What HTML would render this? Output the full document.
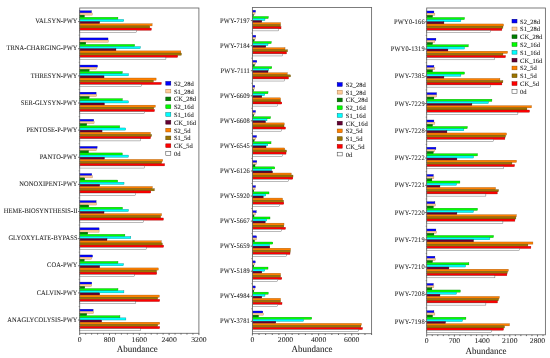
<!DOCTYPE html>
<html><head><meta charset="utf-8"><title>Abundance</title>
<style>
html,body{margin:0;padding:0;background:#fff;}
body{width:550px;height:358px;overflow:hidden;}
svg{display:block;filter:blur(0.35px);}
text{text-rendering:geometricPrecision;font-family:"Liberation Serif","Times New Roman",serif;fill:#1a1a1a;stroke:#1a1a1a;stroke-width:0.05px;}
.c{font-size:6.45px;text-anchor:end;stroke-width:0.06px;}
.k{font-size:7.7px;text-anchor:middle;}
.ti{font-size:9.0px;text-anchor:middle;}
.l{font-size:6.5px;stroke-width:0.08px;}
.b rect{stroke-width:0.35;}
.fr{fill:none;stroke:#666;stroke-width:0.85;}
.t{stroke:#444;stroke-width:0.8;}
</style></head>
<body><svg width="550" height="358" viewBox="0 0 550 358">
<rect width="550" height="358" fill="#fff"/>
<text class="c" letter-spacing="0.06" transform="translate(77.55 23.3) scale(1 1.08)">VALSYN-PWY</text>
<line class="t" x1="78.1" y1="21.6" x2="79.7" y2="21.6"/>
<text class="c" letter-spacing="0.06" transform="translate(77.55 50.43) scale(1 1.08)">TRNA-CHARGING-PWY</text>
<line class="t" x1="78.1" y1="48.73" x2="79.7" y2="48.73"/>
<line class="t" x1="78.8" y1="35.17" x2="79.7" y2="35.17"/>
<text class="c" letter-spacing="0.06" transform="translate(77.55 77.56) scale(1 1.08)">THRESYN-PWY</text>
<line class="t" x1="78.1" y1="75.86" x2="79.7" y2="75.86"/>
<line class="t" x1="78.8" y1="62.3" x2="79.7" y2="62.3"/>
<text class="c" letter-spacing="0.06" transform="translate(77.55 104.69) scale(1 1.08)">SER-GLYSYN-PWY</text>
<line class="t" x1="78.1" y1="102.99" x2="79.7" y2="102.99"/>
<line class="t" x1="78.8" y1="89.43" x2="79.7" y2="89.43"/>
<text class="c" letter-spacing="0.06" transform="translate(77.55 131.82) scale(1 1.08)">PENTOSE-P-PWY</text>
<line class="t" x1="78.1" y1="130.12" x2="79.7" y2="130.12"/>
<line class="t" x1="78.8" y1="116.56" x2="79.7" y2="116.56"/>
<text class="c" letter-spacing="0.06" transform="translate(77.55 158.95) scale(1 1.08)">PANTO-PWY</text>
<line class="t" x1="78.1" y1="157.25" x2="79.7" y2="157.25"/>
<line class="t" x1="78.8" y1="143.69" x2="79.7" y2="143.69"/>
<text class="c" letter-spacing="0.06" transform="translate(77.55 186.08) scale(1 1.08)">NONOXIPENT-PWY</text>
<line class="t" x1="78.1" y1="184.38" x2="79.7" y2="184.38"/>
<line class="t" x1="78.8" y1="170.81" x2="79.7" y2="170.81"/>
<text class="c" letter-spacing="0.06" transform="translate(77.55 213.21) scale(1 1.08)">HEME-BIOSYNTHESIS-II</text>
<line class="t" x1="78.1" y1="211.51" x2="79.7" y2="211.51"/>
<line class="t" x1="78.8" y1="197.94" x2="79.7" y2="197.94"/>
<text class="c" letter-spacing="0.06" transform="translate(77.55 240.34) scale(1 1.08)">GLYOXYLATE-BYPASS</text>
<line class="t" x1="78.1" y1="238.64" x2="79.7" y2="238.64"/>
<line class="t" x1="78.8" y1="225.07" x2="79.7" y2="225.07"/>
<text class="c" letter-spacing="0.06" transform="translate(77.55 267.47) scale(1 1.08)">COA-PWY</text>
<line class="t" x1="78.1" y1="265.77" x2="79.7" y2="265.77"/>
<line class="t" x1="78.8" y1="252.2" x2="79.7" y2="252.2"/>
<text class="c" letter-spacing="0.06" transform="translate(77.55 294.6) scale(1 1.08)">CALVIN-PWY</text>
<line class="t" x1="78.1" y1="292.9" x2="79.7" y2="292.9"/>
<line class="t" x1="78.8" y1="279.34" x2="79.7" y2="279.34"/>
<text class="c" letter-spacing="0.06" transform="translate(77.55 321.73) scale(1 1.08)">ANAGLYCOLYSIS-PWY</text>
<line class="t" x1="78.1" y1="320.03" x2="79.7" y2="320.03"/>
<line class="t" x1="78.8" y1="306.47" x2="79.7" y2="306.47"/>
<g class="b"><rect x="79.7" y="10.8" width="11.77" height="2.16" fill="#0000ff" stroke="#000080"/><rect x="79.7" y="12.96" width="12.55" height="2.16" fill="#ffcc99" stroke="#b08050"/><rect x="79.7" y="15.12" width="4.69" height="2.16" fill="#008000" stroke="#004000"/><rect x="79.7" y="17.28" width="38.22" height="2.16" fill="#00ff00" stroke="#008000"/><rect x="79.7" y="19.44" width="44.1" height="2.16" fill="#00ffff" stroke="#008080"/><rect x="79.7" y="21.6" width="19.97" height="2.16" fill="#660033" stroke="#330018"/><rect x="79.7" y="23.76" width="72.41" height="2.16" fill="#ff8000" stroke="#995000"/><rect x="79.7" y="25.92" width="70.03" height="2.16" fill="#9c7400" stroke="#5a4200"/><rect x="79.7" y="28.08" width="71.63" height="2.16" fill="#ff0000" stroke="#990000"/><rect x="79.7" y="30.24" width="56.73" height="2.16" fill="#ffffff" stroke="#3a3a3a"/><rect x="79.7" y="37.93" width="28.31" height="2.16" fill="#0000ff" stroke="#000080"/><rect x="79.7" y="40.09" width="28.72" height="2.16" fill="#ffcc99" stroke="#b08050"/><rect x="79.7" y="42.25" width="6.07" height="2.16" fill="#008000" stroke="#004000"/><rect x="79.7" y="44.41" width="54.94" height="2.16" fill="#00ff00" stroke="#008000"/><rect x="79.7" y="46.57" width="60.68" height="2.16" fill="#00ffff" stroke="#008080"/><rect x="79.7" y="48.73" width="36.24" height="2.16" fill="#660033" stroke="#330018"/><rect x="79.7" y="50.89" width="101.13" height="2.16" fill="#ff8000" stroke="#995000"/><rect x="79.7" y="53.05" width="101.66" height="2.16" fill="#9c7400" stroke="#5a4200"/><rect x="79.7" y="55.21" width="97.97" height="2.16" fill="#ff0000" stroke="#990000"/><rect x="79.7" y="57.37" width="86.23" height="2.16" fill="#ffffff" stroke="#3a3a3a"/><rect x="79.7" y="65.06" width="17.77" height="2.16" fill="#0000ff" stroke="#000080"/><rect x="79.7" y="67.22" width="16.8" height="2.16" fill="#ffcc99" stroke="#b08050"/><rect x="79.7" y="69.38" width="9.42" height="2.16" fill="#008000" stroke="#004000"/><rect x="79.7" y="71.54" width="42.61" height="2.16" fill="#00ff00" stroke="#008000"/><rect x="79.7" y="73.7" width="48.76" height="2.16" fill="#00ffff" stroke="#008080"/><rect x="79.7" y="75.86" width="24.32" height="2.16" fill="#660033" stroke="#330018"/><rect x="79.7" y="78.02" width="76.4" height="2.16" fill="#ff8000" stroke="#995000"/><rect x="79.7" y="80.18" width="73.61" height="2.16" fill="#9c7400" stroke="#5a4200"/><rect x="79.7" y="82.34" width="81.58" height="2.16" fill="#ff0000" stroke="#990000"/><rect x="79.7" y="84.5" width="61.69" height="2.16" fill="#ffffff" stroke="#3a3a3a"/><rect x="79.7" y="92.19" width="16.39" height="2.16" fill="#0000ff" stroke="#000080"/><rect x="79.7" y="94.35" width="16.99" height="2.16" fill="#ffcc99" stroke="#b08050"/><rect x="79.7" y="96.51" width="9.42" height="2.16" fill="#008000" stroke="#004000"/><rect x="79.7" y="98.67" width="42.61" height="2.16" fill="#00ff00" stroke="#008000"/><rect x="79.7" y="100.83" width="48.76" height="2.16" fill="#00ffff" stroke="#008080"/><rect x="79.7" y="102.99" width="24.73" height="2.16" fill="#660033" stroke="#330018"/><rect x="79.7" y="105.15" width="75.58" height="2.16" fill="#ff8000" stroke="#995000"/><rect x="79.7" y="107.31" width="74.02" height="2.16" fill="#9c7400" stroke="#5a4200"/><rect x="79.7" y="109.47" width="74.8" height="2.16" fill="#ff0000" stroke="#990000"/><rect x="79.7" y="111.63" width="65.08" height="2.16" fill="#ffffff" stroke="#3a3a3a"/><rect x="79.7" y="119.32" width="14.01" height="2.16" fill="#0000ff" stroke="#000080"/><rect x="79.7" y="121.48" width="14.42" height="2.16" fill="#ffcc99" stroke="#b08050"/><rect x="79.7" y="123.64" width="7.04" height="2.16" fill="#008000" stroke="#004000"/><rect x="79.7" y="125.8" width="40.01" height="2.16" fill="#00ff00" stroke="#008000"/><rect x="79.7" y="127.96" width="45.97" height="2.16" fill="#00ffff" stroke="#008080"/><rect x="79.7" y="130.12" width="22.35" height="2.16" fill="#660033" stroke="#330018"/><rect x="79.7" y="132.28" width="70.7" height="2.16" fill="#ff8000" stroke="#995000"/><rect x="79.7" y="134.44" width="71.86" height="2.16" fill="#9c7400" stroke="#5a4200"/><rect x="79.7" y="136.6" width="70.89" height="2.16" fill="#ff0000" stroke="#990000"/><rect x="79.7" y="138.76" width="60.49" height="2.16" fill="#ffffff" stroke="#3a3a3a"/><rect x="79.7" y="146.45" width="17.4" height="2.16" fill="#0000ff" stroke="#000080"/><rect x="79.7" y="148.61" width="16.8" height="2.16" fill="#ffcc99" stroke="#b08050"/><rect x="79.7" y="150.77" width="8.83" height="2.16" fill="#008000" stroke="#004000"/><rect x="79.7" y="152.93" width="42.61" height="2.16" fill="#00ff00" stroke="#008000"/><rect x="79.7" y="155.09" width="48.76" height="2.16" fill="#00ffff" stroke="#008080"/><rect x="79.7" y="157.25" width="24.73" height="2.16" fill="#660033" stroke="#330018"/><rect x="79.7" y="159.41" width="82.96" height="2.16" fill="#ff8000" stroke="#995000"/><rect x="79.7" y="161.57" width="81.95" height="2.16" fill="#9c7400" stroke="#5a4200"/><rect x="79.7" y="163.73" width="84.89" height="2.16" fill="#ff0000" stroke="#990000"/><rect x="79.7" y="165.89" width="65.04" height="2.16" fill="#ffffff" stroke="#3a3a3a"/><rect x="79.7" y="173.58" width="12.03" height="2.16" fill="#0000ff" stroke="#000080"/><rect x="79.7" y="175.74" width="12.81" height="2.16" fill="#ffcc99" stroke="#b08050"/><rect x="79.7" y="177.9" width="5.07" height="2.16" fill="#008000" stroke="#004000"/><rect x="79.7" y="180.06" width="37.99" height="2.16" fill="#00ff00" stroke="#008000"/><rect x="79.7" y="182.22" width="44.33" height="2.16" fill="#00ffff" stroke="#008080"/><rect x="79.7" y="184.38" width="19.97" height="2.16" fill="#660033" stroke="#330018"/><rect x="79.7" y="186.54" width="72.6" height="2.16" fill="#ff8000" stroke="#995000"/><rect x="79.7" y="188.7" width="74.61" height="2.16" fill="#9c7400" stroke="#5a4200"/><rect x="79.7" y="190.86" width="71.04" height="2.16" fill="#ff0000" stroke="#990000"/><rect x="79.7" y="193.02" width="55.73" height="2.16" fill="#ffffff" stroke="#3a3a3a"/><rect x="79.7" y="200.71" width="16.39" height="2.16" fill="#0000ff" stroke="#000080"/><rect x="79.7" y="202.87" width="16.8" height="2.16" fill="#ffcc99" stroke="#b08050"/><rect x="79.7" y="205.03" width="9.05" height="2.16" fill="#008000" stroke="#004000"/><rect x="79.7" y="207.19" width="42.8" height="2.16" fill="#00ff00" stroke="#008000"/><rect x="79.7" y="209.35" width="48.76" height="2.16" fill="#00ffff" stroke="#008080"/><rect x="79.7" y="211.51" width="24.32" height="2.16" fill="#660033" stroke="#330018"/><rect x="79.7" y="213.67" width="81.84" height="2.16" fill="#ff8000" stroke="#995000"/><rect x="79.7" y="215.83" width="80.94" height="2.16" fill="#9c7400" stroke="#5a4200"/><rect x="79.7" y="217.99" width="83.7" height="2.16" fill="#ff0000" stroke="#990000"/><rect x="79.7" y="220.15" width="63.85" height="2.16" fill="#ffffff" stroke="#3a3a3a"/><rect x="79.7" y="227.84" width="19.37" height="2.16" fill="#0000ff" stroke="#000080"/><rect x="79.7" y="230" width="19.37" height="2.16" fill="#ffcc99" stroke="#b08050"/><rect x="79.7" y="232.16" width="8.05" height="2.16" fill="#008000" stroke="#004000"/><rect x="79.7" y="234.32" width="45.18" height="2.16" fill="#00ff00" stroke="#008000"/><rect x="79.7" y="236.48" width="51.14" height="2.16" fill="#00ffff" stroke="#008080"/><rect x="79.7" y="238.64" width="27.3" height="2.16" fill="#660033" stroke="#330018"/><rect x="79.7" y="240.8" width="81.54" height="2.16" fill="#ff8000" stroke="#995000"/><rect x="79.7" y="242.96" width="82.55" height="2.16" fill="#9c7400" stroke="#5a4200"/><rect x="79.7" y="245.12" width="83.92" height="2.16" fill="#ff0000" stroke="#990000"/><rect x="79.7" y="247.28" width="66.45" height="2.16" fill="#ffffff" stroke="#3a3a3a"/><rect x="79.7" y="254.97" width="12.81" height="2.16" fill="#0000ff" stroke="#000080"/><rect x="79.7" y="257.13" width="12.03" height="2.16" fill="#ffcc99" stroke="#b08050"/><rect x="79.7" y="259.29" width="4.47" height="2.16" fill="#008000" stroke="#004000"/><rect x="79.7" y="261.45" width="38.26" height="2.16" fill="#00ff00" stroke="#008000"/><rect x="79.7" y="263.61" width="43.81" height="2.16" fill="#00ffff" stroke="#008080"/><rect x="79.7" y="265.77" width="19.97" height="2.16" fill="#660033" stroke="#330018"/><rect x="79.7" y="267.93" width="78.56" height="2.16" fill="#ff8000" stroke="#995000"/><rect x="79.7" y="270.09" width="76.85" height="2.16" fill="#9c7400" stroke="#5a4200"/><rect x="79.7" y="272.25" width="77.03" height="2.16" fill="#ff0000" stroke="#990000"/><rect x="79.7" y="274.41" width="54.53" height="2.16" fill="#ffffff" stroke="#3a3a3a"/><rect x="79.7" y="282.1" width="12.03" height="2.16" fill="#0000ff" stroke="#000080"/><rect x="79.7" y="284.26" width="12.03" height="2.16" fill="#ffcc99" stroke="#b08050"/><rect x="79.7" y="286.42" width="5.07" height="2.16" fill="#008000" stroke="#004000"/><rect x="79.7" y="288.58" width="38.26" height="2.16" fill="#00ff00" stroke="#008000"/><rect x="79.7" y="290.74" width="44.22" height="2.16" fill="#00ffff" stroke="#008080"/><rect x="79.7" y="292.9" width="19.97" height="2.16" fill="#660033" stroke="#330018"/><rect x="79.7" y="295.06" width="79.57" height="2.16" fill="#ff8000" stroke="#995000"/><rect x="79.7" y="297.22" width="77.96" height="2.16" fill="#9c7400" stroke="#5a4200"/><rect x="79.7" y="299.38" width="79.98" height="2.16" fill="#ff0000" stroke="#990000"/><rect x="79.7" y="301.54" width="56.14" height="2.16" fill="#ffffff" stroke="#3a3a3a"/><rect x="79.7" y="309.23" width="13.41" height="2.16" fill="#0000ff" stroke="#000080"/><rect x="79.7" y="311.39" width="14.01" height="2.16" fill="#ffcc99" stroke="#b08050"/><rect x="79.7" y="313.55" width="7.04" height="2.16" fill="#008000" stroke="#004000"/><rect x="79.7" y="315.71" width="40.23" height="2.16" fill="#00ff00" stroke="#008000"/><rect x="79.7" y="317.87" width="46.19" height="2.16" fill="#00ffff" stroke="#008080"/><rect x="79.7" y="320.03" width="21.94" height="2.16" fill="#660033" stroke="#330018"/><rect x="79.7" y="322.19" width="79.98" height="2.16" fill="#ff8000" stroke="#995000"/><rect x="79.7" y="324.35" width="77.96" height="2.16" fill="#9c7400" stroke="#5a4200"/><rect x="79.7" y="326.51" width="79.98" height="2.16" fill="#ff0000" stroke="#990000"/><rect x="79.7" y="328.67" width="60.49" height="2.16" fill="#ffffff" stroke="#3a3a3a"/></g>
<rect class="fr" x="79.7" y="8" width="119.2" height="325.3"/>
<line class="t" x1="79.7" y1="333.3" x2="79.7" y2="335.1"/>
<line class="t" x1="85.66" y1="333.3" x2="85.66" y2="334.6"/>
<line class="t" x1="91.62" y1="333.3" x2="91.62" y2="334.6"/>
<line class="t" x1="97.58" y1="333.3" x2="97.58" y2="334.6"/>
<line class="t" x1="103.54" y1="333.3" x2="103.54" y2="334.6"/>
<line class="t" x1="109.5" y1="333.3" x2="109.5" y2="335.1"/>
<line class="t" x1="115.46" y1="333.3" x2="115.46" y2="334.6"/>
<line class="t" x1="121.42" y1="333.3" x2="121.42" y2="334.6"/>
<line class="t" x1="127.38" y1="333.3" x2="127.38" y2="334.6"/>
<line class="t" x1="133.34" y1="333.3" x2="133.34" y2="334.6"/>
<line class="t" x1="139.3" y1="333.3" x2="139.3" y2="335.1"/>
<line class="t" x1="145.26" y1="333.3" x2="145.26" y2="334.6"/>
<line class="t" x1="151.22" y1="333.3" x2="151.22" y2="334.6"/>
<line class="t" x1="157.18" y1="333.3" x2="157.18" y2="334.6"/>
<line class="t" x1="163.14" y1="333.3" x2="163.14" y2="334.6"/>
<line class="t" x1="169.1" y1="333.3" x2="169.1" y2="335.1"/>
<line class="t" x1="175.06" y1="333.3" x2="175.06" y2="334.6"/>
<line class="t" x1="181.02" y1="333.3" x2="181.02" y2="334.6"/>
<line class="t" x1="186.98" y1="333.3" x2="186.98" y2="334.6"/>
<line class="t" x1="192.94" y1="333.3" x2="192.94" y2="334.6"/>
<line class="t" x1="198.9" y1="333.3" x2="198.9" y2="335.1"/>
<text class="k" transform="translate(79.7 341.5) scale(1 0.95)">0</text>
<text class="k" transform="translate(109.5 341.5) scale(1 0.95)">800</text>
<text class="k" transform="translate(139.3 341.5) scale(1 0.95)">1600</text>
<text class="k" transform="translate(169.1 341.5) scale(1 0.95)">2400</text>
<text class="k" transform="translate(198.9 341.5) scale(1 0.95)">3200</text>
<text class="ti" transform="translate(137.35 351.5) scale(1 1.05)">Abundance</text>
<rect x="165.8" y="81.45" width="5" height="3.7" fill="#0000ff" stroke="#000080" stroke-width="0.5"/>
<text class="l" transform="translate(174 85.8) scale(1 1.0)">S2_28d</text>
<rect x="165.8" y="89.25" width="5" height="3.7" fill="#ffcc99" stroke="#b08050" stroke-width="0.5"/>
<text class="l" transform="translate(174 93.6) scale(1 1.0)">S1_28d</text>
<rect x="165.8" y="97.05" width="5" height="3.7" fill="#008000" stroke="#004000" stroke-width="0.5"/>
<text class="l" transform="translate(174 101.4) scale(1 1.0)">CK_28d</text>
<rect x="165.8" y="104.85" width="5" height="3.7" fill="#00ff00" stroke="#008000" stroke-width="0.5"/>
<text class="l" transform="translate(174 109.2) scale(1 1.0)">S2_16d</text>
<rect x="165.8" y="112.65" width="5" height="3.7" fill="#00ffff" stroke="#008080" stroke-width="0.5"/>
<text class="l" transform="translate(174 117) scale(1 1.0)">S1_16d</text>
<rect x="165.8" y="120.45" width="5" height="3.7" fill="#660033" stroke="#330018" stroke-width="0.5"/>
<text class="l" transform="translate(174 124.8) scale(1 1.0)">CK_16d</text>
<rect x="165.8" y="128.25" width="5" height="3.7" fill="#ff8000" stroke="#995000" stroke-width="0.5"/>
<text class="l" transform="translate(174 132.6) scale(1 1.0)">S2_5d</text>
<rect x="165.8" y="136.05" width="5" height="3.7" fill="#9c7400" stroke="#5a4200" stroke-width="0.5"/>
<text class="l" transform="translate(174 140.4) scale(1 1.0)">S1_5d</text>
<rect x="165.8" y="143.85" width="5" height="3.7" fill="#ff0000" stroke="#990000" stroke-width="0.5"/>
<text class="l" transform="translate(174 148.2) scale(1 1.0)">CK_5d</text>
<rect x="165.8" y="151.65" width="5" height="3.7" fill="#ffffff" stroke="#3a3a3a" stroke-width="0.5"/>
<text class="l" transform="translate(174 156) scale(1 1.0)">0d</text>
<text class="c" letter-spacing="0.18" transform="translate(250 22.7) scale(1 1.08)">PWY-7197</text>
<line class="t" x1="250.8" y1="20.6" x2="252.4" y2="20.6"/>
<text class="c" letter-spacing="0.18" transform="translate(250 47.76) scale(1 1.08)">PWY-7184</text>
<line class="t" x1="250.8" y1="45.66" x2="252.4" y2="45.66"/>
<line class="t" x1="251.5" y1="33.13" x2="252.4" y2="33.13"/>
<text class="c" letter-spacing="0.18" transform="translate(250 72.82) scale(1 1.08)">PWY-7111</text>
<line class="t" x1="250.8" y1="70.72" x2="252.4" y2="70.72"/>
<line class="t" x1="251.5" y1="58.19" x2="252.4" y2="58.19"/>
<text class="c" letter-spacing="0.18" transform="translate(250 97.88) scale(1 1.08)">PWY-6609</text>
<line class="t" x1="250.8" y1="95.78" x2="252.4" y2="95.78"/>
<line class="t" x1="251.5" y1="83.25" x2="252.4" y2="83.25"/>
<text class="c" letter-spacing="0.18" transform="translate(250 122.94) scale(1 1.08)">PWY-6608</text>
<line class="t" x1="250.8" y1="120.84" x2="252.4" y2="120.84"/>
<line class="t" x1="251.5" y1="108.31" x2="252.4" y2="108.31"/>
<text class="c" letter-spacing="0.18" transform="translate(250 148) scale(1 1.08)">PWY-6545</text>
<line class="t" x1="250.8" y1="145.9" x2="252.4" y2="145.9"/>
<line class="t" x1="251.5" y1="133.37" x2="252.4" y2="133.37"/>
<text class="c" letter-spacing="0.18" transform="translate(250 173.06) scale(1 1.08)">PWY-6126</text>
<line class="t" x1="250.8" y1="170.96" x2="252.4" y2="170.96"/>
<line class="t" x1="251.5" y1="158.43" x2="252.4" y2="158.43"/>
<text class="c" letter-spacing="0.18" transform="translate(250 198.12) scale(1 1.08)">PWY-5920</text>
<line class="t" x1="250.8" y1="196.02" x2="252.4" y2="196.02"/>
<line class="t" x1="251.5" y1="183.49" x2="252.4" y2="183.49"/>
<text class="c" letter-spacing="0.18" transform="translate(250 223.18) scale(1 1.08)">PWY-5667</text>
<line class="t" x1="250.8" y1="221.08" x2="252.4" y2="221.08"/>
<line class="t" x1="251.5" y1="208.55" x2="252.4" y2="208.55"/>
<text class="c" letter-spacing="0.18" transform="translate(250 248.24) scale(1 1.08)">PWY-5659</text>
<line class="t" x1="250.8" y1="246.14" x2="252.4" y2="246.14"/>
<line class="t" x1="251.5" y1="233.61" x2="252.4" y2="233.61"/>
<text class="c" letter-spacing="0.18" transform="translate(250 273.3) scale(1 1.08)">PWY-5189</text>
<line class="t" x1="250.8" y1="271.2" x2="252.4" y2="271.2"/>
<line class="t" x1="251.5" y1="258.67" x2="252.4" y2="258.67"/>
<text class="c" letter-spacing="0.18" transform="translate(250 298.36) scale(1 1.08)">PWY-4984</text>
<line class="t" x1="250.8" y1="296.26" x2="252.4" y2="296.26"/>
<line class="t" x1="251.5" y1="283.73" x2="252.4" y2="283.73"/>
<text class="c" letter-spacing="0.18" transform="translate(250 323.42) scale(1 1.08)">PWY-3781</text>
<line class="t" x1="250.8" y1="321.32" x2="252.4" y2="321.32"/>
<line class="t" x1="251.5" y1="308.79" x2="252.4" y2="308.79"/>
<g class="b"><rect x="252.4" y="10.3" width="3.1" height="2.06" fill="#0000ff" stroke="#000080"/><rect x="252.4" y="12.36" width="2.6" height="2.06" fill="#ffcc99" stroke="#b08050"/><rect x="252.4" y="14.42" width="1.09" height="2.06" fill="#008000" stroke="#004000"/><rect x="252.4" y="16.48" width="15.89" height="2.06" fill="#00ff00" stroke="#008000"/><rect x="252.4" y="18.54" width="12.58" height="2.06" fill="#00ffff" stroke="#008080"/><rect x="252.4" y="20.6" width="9.4" height="2.06" fill="#660033" stroke="#330018"/><rect x="252.4" y="22.66" width="28.11" height="2.06" fill="#ff8000" stroke="#995000"/><rect x="252.4" y="24.72" width="28.11" height="2.06" fill="#9c7400" stroke="#5a4200"/><rect x="252.4" y="26.78" width="28.61" height="2.06" fill="#ff0000" stroke="#990000"/><rect x="252.4" y="28.84" width="25.81" height="2.06" fill="#ffffff" stroke="#3a3a3a"/><rect x="252.4" y="35.36" width="3.39" height="2.06" fill="#0000ff" stroke="#000080"/><rect x="252.4" y="37.42" width="2.8" height="2.06" fill="#ffcc99" stroke="#b08050"/><rect x="252.4" y="39.48" width="1.8" height="2.06" fill="#008000" stroke="#004000"/><rect x="252.4" y="41.54" width="18.81" height="2.06" fill="#00ff00" stroke="#008000"/><rect x="252.4" y="43.6" width="15.61" height="2.06" fill="#00ffff" stroke="#008080"/><rect x="252.4" y="45.66" width="13.41" height="2.06" fill="#660033" stroke="#330018"/><rect x="252.4" y="47.72" width="32.61" height="2.06" fill="#ff8000" stroke="#995000"/><rect x="252.4" y="49.78" width="35.11" height="2.06" fill="#9c7400" stroke="#5a4200"/><rect x="252.4" y="51.84" width="34.1" height="2.06" fill="#ff0000" stroke="#990000"/><rect x="252.4" y="53.9" width="30.11" height="2.06" fill="#ffffff" stroke="#3a3a3a"/><rect x="252.4" y="60.42" width="4.4" height="2.06" fill="#0000ff" stroke="#000080"/><rect x="252.4" y="62.48" width="3.39" height="2.06" fill="#ffcc99" stroke="#b08050"/><rect x="252.4" y="64.54" width="2.1" height="2.06" fill="#008000" stroke="#004000"/><rect x="252.4" y="66.6" width="19.4" height="2.06" fill="#00ff00" stroke="#008000"/><rect x="252.4" y="68.66" width="16.31" height="2.06" fill="#00ffff" stroke="#008080"/><rect x="252.4" y="70.72" width="15.61" height="2.06" fill="#660033" stroke="#330018"/><rect x="252.4" y="72.78" width="34.82" height="2.06" fill="#ff8000" stroke="#995000"/><rect x="252.4" y="74.84" width="38.11" height="2.06" fill="#9c7400" stroke="#5a4200"/><rect x="252.4" y="76.9" width="36.11" height="2.06" fill="#ff0000" stroke="#990000"/><rect x="252.4" y="78.96" width="32.12" height="2.06" fill="#ffffff" stroke="#3a3a3a"/><rect x="252.4" y="85.48" width="2.4" height="2.06" fill="#0000ff" stroke="#000080"/><rect x="252.4" y="87.54" width="2.1" height="2.06" fill="#ffcc99" stroke="#b08050"/><rect x="252.4" y="89.6" width="1.09" height="2.06" fill="#008000" stroke="#004000"/><rect x="252.4" y="91.66" width="15.61" height="2.06" fill="#00ff00" stroke="#008000"/><rect x="252.4" y="93.72" width="12.4" height="2.06" fill="#00ffff" stroke="#008080"/><rect x="252.4" y="95.78" width="9.4" height="2.06" fill="#660033" stroke="#330018"/><rect x="252.4" y="97.84" width="28.11" height="2.06" fill="#ff8000" stroke="#995000"/><rect x="252.4" y="99.9" width="28.11" height="2.06" fill="#9c7400" stroke="#5a4200"/><rect x="252.4" y="101.96" width="29.4" height="2.06" fill="#ff0000" stroke="#990000"/><rect x="252.4" y="104.02" width="25.41" height="2.06" fill="#ffffff" stroke="#3a3a3a"/><rect x="252.4" y="110.54" width="3.1" height="2.06" fill="#0000ff" stroke="#000080"/><rect x="252.4" y="112.6" width="2.6" height="2.06" fill="#ffcc99" stroke="#b08050"/><rect x="252.4" y="114.66" width="1.41" height="2.06" fill="#008000" stroke="#004000"/><rect x="252.4" y="116.72" width="18.11" height="2.06" fill="#00ff00" stroke="#008000"/><rect x="252.4" y="118.78" width="14.6" height="2.06" fill="#00ffff" stroke="#008080"/><rect x="252.4" y="120.84" width="13.1" height="2.06" fill="#660033" stroke="#330018"/><rect x="252.4" y="122.9" width="31.8" height="2.06" fill="#ff8000" stroke="#995000"/><rect x="252.4" y="124.96" width="31.6" height="2.06" fill="#9c7400" stroke="#5a4200"/><rect x="252.4" y="127.02" width="33.11" height="2.06" fill="#ff0000" stroke="#990000"/><rect x="252.4" y="129.08" width="29.1" height="2.06" fill="#ffffff" stroke="#3a3a3a"/><rect x="252.4" y="135.6" width="4.11" height="2.06" fill="#0000ff" stroke="#000080"/><rect x="252.4" y="137.66" width="3.39" height="2.06" fill="#ffcc99" stroke="#b08050"/><rect x="252.4" y="139.72" width="1.8" height="2.06" fill="#008000" stroke="#004000"/><rect x="252.4" y="141.78" width="18.61" height="2.06" fill="#00ff00" stroke="#008000"/><rect x="252.4" y="143.84" width="15.41" height="2.06" fill="#00ffff" stroke="#008080"/><rect x="252.4" y="145.9" width="13.61" height="2.06" fill="#660033" stroke="#330018"/><rect x="252.4" y="147.96" width="32.32" height="2.06" fill="#ff8000" stroke="#995000"/><rect x="252.4" y="150.02" width="34.1" height="2.06" fill="#9c7400" stroke="#5a4200"/><rect x="252.4" y="152.08" width="33.61" height="2.06" fill="#ff0000" stroke="#990000"/><rect x="252.4" y="154.14" width="30.11" height="2.06" fill="#ffffff" stroke="#3a3a3a"/><rect x="252.4" y="160.66" width="4.4" height="2.06" fill="#0000ff" stroke="#000080"/><rect x="252.4" y="162.72" width="4.11" height="2.06" fill="#ffcc99" stroke="#b08050"/><rect x="252.4" y="164.78" width="2.6" height="2.06" fill="#008000" stroke="#004000"/><rect x="252.4" y="166.84" width="22.4" height="2.06" fill="#00ff00" stroke="#008000"/><rect x="252.4" y="168.9" width="19.11" height="2.06" fill="#00ffff" stroke="#008080"/><rect x="252.4" y="170.96" width="20.12" height="2.06" fill="#660033" stroke="#330018"/><rect x="252.4" y="173.02" width="38.81" height="2.06" fill="#ff8000" stroke="#995000"/><rect x="252.4" y="175.08" width="40.61" height="2.06" fill="#9c7400" stroke="#5a4200"/><rect x="252.4" y="177.14" width="40.41" height="2.06" fill="#ff0000" stroke="#990000"/><rect x="252.4" y="179.2" width="36.11" height="2.06" fill="#ffffff" stroke="#3a3a3a"/><rect x="252.4" y="185.72" width="3.1" height="2.06" fill="#0000ff" stroke="#000080"/><rect x="252.4" y="187.78" width="2.6" height="2.06" fill="#ffcc99" stroke="#b08050"/><rect x="252.4" y="189.84" width="1.41" height="2.06" fill="#008000" stroke="#004000"/><rect x="252.4" y="191.9" width="16.61" height="2.06" fill="#00ff00" stroke="#008000"/><rect x="252.4" y="193.96" width="13.41" height="2.06" fill="#00ffff" stroke="#008080"/><rect x="252.4" y="196.02" width="10.81" height="2.06" fill="#660033" stroke="#330018"/><rect x="252.4" y="198.08" width="30.11" height="2.06" fill="#ff8000" stroke="#995000"/><rect x="252.4" y="200.14" width="31.11" height="2.06" fill="#9c7400" stroke="#5a4200"/><rect x="252.4" y="202.2" width="31.41" height="2.06" fill="#ff0000" stroke="#990000"/><rect x="252.4" y="204.26" width="27.42" height="2.06" fill="#ffffff" stroke="#3a3a3a"/><rect x="252.4" y="210.78" width="3.81" height="2.06" fill="#0000ff" stroke="#000080"/><rect x="252.4" y="212.84" width="3.1" height="2.06" fill="#ffcc99" stroke="#b08050"/><rect x="252.4" y="214.9" width="1.61" height="2.06" fill="#008000" stroke="#004000"/><rect x="252.4" y="216.96" width="17.6" height="2.06" fill="#00ff00" stroke="#008000"/><rect x="252.4" y="219.02" width="14.4" height="2.06" fill="#00ffff" stroke="#008080"/><rect x="252.4" y="221.08" width="12.8" height="2.06" fill="#660033" stroke="#330018"/><rect x="252.4" y="223.14" width="31.6" height="2.06" fill="#ff8000" stroke="#995000"/><rect x="252.4" y="225.2" width="31.41" height="2.06" fill="#9c7400" stroke="#5a4200"/><rect x="252.4" y="227.26" width="33.11" height="2.06" fill="#ff0000" stroke="#990000"/><rect x="252.4" y="229.32" width="29.1" height="2.06" fill="#ffffff" stroke="#3a3a3a"/><rect x="252.4" y="235.84" width="4.11" height="2.06" fill="#0000ff" stroke="#000080"/><rect x="252.4" y="237.9" width="3.81" height="2.06" fill="#ffcc99" stroke="#b08050"/><rect x="252.4" y="239.96" width="2.1" height="2.06" fill="#008000" stroke="#004000"/><rect x="252.4" y="242.02" width="20.41" height="2.06" fill="#00ff00" stroke="#008000"/><rect x="252.4" y="244.08" width="17.1" height="2.06" fill="#00ffff" stroke="#008080"/><rect x="252.4" y="246.14" width="17.4" height="2.06" fill="#660033" stroke="#330018"/><rect x="252.4" y="248.2" width="38.11" height="2.06" fill="#ff8000" stroke="#995000"/><rect x="252.4" y="250.26" width="37.81" height="2.06" fill="#9c7400" stroke="#5a4200"/><rect x="252.4" y="252.32" width="37.61" height="2.06" fill="#ff0000" stroke="#990000"/><rect x="252.4" y="254.38" width="33.81" height="2.06" fill="#ffffff" stroke="#3a3a3a"/><rect x="252.4" y="260.9" width="2.8" height="2.06" fill="#0000ff" stroke="#000080"/><rect x="252.4" y="262.96" width="2.4" height="2.06" fill="#ffcc99" stroke="#b08050"/><rect x="252.4" y="265.02" width="1.41" height="2.06" fill="#008000" stroke="#004000"/><rect x="252.4" y="267.08" width="15.61" height="2.06" fill="#00ff00" stroke="#008000"/><rect x="252.4" y="269.14" width="12.4" height="2.06" fill="#00ffff" stroke="#008080"/><rect x="252.4" y="271.2" width="9.4" height="2.06" fill="#660033" stroke="#330018"/><rect x="252.4" y="273.26" width="28.11" height="2.06" fill="#ff8000" stroke="#995000"/><rect x="252.4" y="275.32" width="28.11" height="2.06" fill="#9c7400" stroke="#5a4200"/><rect x="252.4" y="277.38" width="29.4" height="2.06" fill="#ff0000" stroke="#990000"/><rect x="252.4" y="279.44" width="25.41" height="2.06" fill="#ffffff" stroke="#3a3a3a"/><rect x="252.4" y="285.96" width="2.8" height="2.06" fill="#0000ff" stroke="#000080"/><rect x="252.4" y="288.02" width="2.4" height="2.06" fill="#ffcc99" stroke="#b08050"/><rect x="252.4" y="290.08" width="1.41" height="2.06" fill="#008000" stroke="#004000"/><rect x="252.4" y="292.14" width="15.81" height="2.06" fill="#00ff00" stroke="#008000"/><rect x="252.4" y="294.2" width="12.6" height="2.06" fill="#00ffff" stroke="#008080"/><rect x="252.4" y="296.26" width="9.4" height="2.06" fill="#660033" stroke="#330018"/><rect x="252.4" y="298.32" width="28.11" height="2.06" fill="#ff8000" stroke="#995000"/><rect x="252.4" y="300.38" width="28.11" height="2.06" fill="#9c7400" stroke="#5a4200"/><rect x="252.4" y="302.44" width="29.6" height="2.06" fill="#ff0000" stroke="#990000"/><rect x="252.4" y="304.5" width="25.41" height="2.06" fill="#ffffff" stroke="#3a3a3a"/><rect x="252.4" y="311.02" width="10.4" height="2.06" fill="#0000ff" stroke="#000080"/><rect x="252.4" y="313.08" width="11.11" height="2.06" fill="#ffcc99" stroke="#b08050"/><rect x="252.4" y="315.14" width="6.11" height="2.06" fill="#008000" stroke="#004000"/><rect x="252.4" y="317.2" width="59.32" height="2.06" fill="#00ff00" stroke="#008000"/><rect x="252.4" y="319.26" width="51.16" height="2.06" fill="#00ffff" stroke="#008080"/><rect x="252.4" y="321.32" width="23.41" height="2.06" fill="#660033" stroke="#330018"/><rect x="252.4" y="323.38" width="108.94" height="2.06" fill="#ff8000" stroke="#995000"/><rect x="252.4" y="325.44" width="108.44" height="2.06" fill="#9c7400" stroke="#5a4200"/><rect x="252.4" y="327.5" width="110.04" height="2.06" fill="#ff0000" stroke="#990000"/><rect x="252.4" y="329.56" width="106.14" height="2.06" fill="#ffffff" stroke="#3a3a3a"/></g>
<rect class="fr" x="252.4" y="7.5" width="119.2" height="326.2"/>
<line class="t" x1="252.4" y1="333.7" x2="252.4" y2="335.5"/>
<line class="t" x1="259.02" y1="333.7" x2="259.02" y2="335"/>
<line class="t" x1="265.64" y1="333.7" x2="265.64" y2="335"/>
<line class="t" x1="272.27" y1="333.7" x2="272.27" y2="335"/>
<line class="t" x1="278.89" y1="333.7" x2="278.89" y2="335"/>
<line class="t" x1="285.51" y1="333.7" x2="285.51" y2="335.5"/>
<line class="t" x1="292.13" y1="333.7" x2="292.13" y2="335"/>
<line class="t" x1="298.76" y1="333.7" x2="298.76" y2="335"/>
<line class="t" x1="305.38" y1="333.7" x2="305.38" y2="335"/>
<line class="t" x1="312" y1="333.7" x2="312" y2="335"/>
<line class="t" x1="318.62" y1="333.7" x2="318.62" y2="335.5"/>
<line class="t" x1="325.24" y1="333.7" x2="325.24" y2="335"/>
<line class="t" x1="331.87" y1="333.7" x2="331.87" y2="335"/>
<line class="t" x1="338.49" y1="333.7" x2="338.49" y2="335"/>
<line class="t" x1="345.11" y1="333.7" x2="345.11" y2="335"/>
<line class="t" x1="351.73" y1="333.7" x2="351.73" y2="335.5"/>
<line class="t" x1="358.36" y1="333.7" x2="358.36" y2="335"/>
<line class="t" x1="364.98" y1="333.7" x2="364.98" y2="335"/>
<line class="t" x1="371.6" y1="333.7" x2="371.6" y2="335"/>
<text class="k" transform="translate(252.4 341.7) scale(1 0.95)">0</text>
<text class="k" transform="translate(285.51 341.7) scale(1 0.95)">2000</text>
<text class="k" transform="translate(318.62 341.7) scale(1 0.95)">4000</text>
<text class="k" transform="translate(351.73 341.7) scale(1 0.95)">6000</text>
<text class="ti" transform="translate(311.9 351.8) scale(1 1.05)">Abundance</text>
<rect x="337.2" y="82.65" width="5" height="3.7" fill="#0000ff" stroke="#000080" stroke-width="0.5"/>
<text class="l" transform="translate(345.8 87) scale(1 1.0)">S2_28d</text>
<rect x="337.2" y="90.38" width="5" height="3.7" fill="#ffcc99" stroke="#b08050" stroke-width="0.5"/>
<text class="l" transform="translate(345.8 94.73) scale(1 1.0)">S1_28d</text>
<rect x="337.2" y="98.11" width="5" height="3.7" fill="#008000" stroke="#004000" stroke-width="0.5"/>
<text class="l" transform="translate(345.8 102.46) scale(1 1.0)">CK_28d</text>
<rect x="337.2" y="105.84" width="5" height="3.7" fill="#00ff00" stroke="#008000" stroke-width="0.5"/>
<text class="l" transform="translate(345.8 110.19) scale(1 1.0)">S2_16d</text>
<rect x="337.2" y="113.57" width="5" height="3.7" fill="#00ffff" stroke="#008080" stroke-width="0.5"/>
<text class="l" transform="translate(345.8 117.92) scale(1 1.0)">S1_16d</text>
<rect x="337.2" y="121.3" width="5" height="3.7" fill="#660033" stroke="#330018" stroke-width="0.5"/>
<text class="l" transform="translate(345.8 125.65) scale(1 1.0)">CK_16d</text>
<rect x="337.2" y="129.03" width="5" height="3.7" fill="#ff8000" stroke="#995000" stroke-width="0.5"/>
<text class="l" transform="translate(345.8 133.38) scale(1 1.0)">S2_5d</text>
<rect x="337.2" y="136.76" width="5" height="3.7" fill="#9c7400" stroke="#5a4200" stroke-width="0.5"/>
<text class="l" transform="translate(345.8 141.11) scale(1 1.0)">S1_5d</text>
<rect x="337.2" y="144.49" width="5" height="3.7" fill="#ff0000" stroke="#990000" stroke-width="0.5"/>
<text class="l" transform="translate(345.8 148.84) scale(1 1.0)">CK_5d</text>
<rect x="337.2" y="152.22" width="5" height="3.7" fill="#ffffff" stroke="#3a3a3a" stroke-width="0.5"/>
<text class="l" transform="translate(345.8 156.57) scale(1 1.0)">0d</text>
<text class="c" letter-spacing="0.18" transform="translate(424.8 23.8) scale(1 1.08)">PWY0-166</text>
<line class="t" x1="425.1" y1="21.8" x2="426.7" y2="21.8"/>
<text class="c" letter-spacing="0.18" transform="translate(424.8 51.05) scale(1 1.08)">PWY0-1319</text>
<line class="t" x1="425.1" y1="49.05" x2="426.7" y2="49.05"/>
<line class="t" x1="425.8" y1="35.42" x2="426.7" y2="35.42"/>
<text class="c" letter-spacing="0.18" transform="translate(424.8 78.3) scale(1 1.08)">PWY-7385</text>
<line class="t" x1="425.1" y1="76.3" x2="426.7" y2="76.3"/>
<line class="t" x1="425.8" y1="62.67" x2="426.7" y2="62.67"/>
<text class="c" letter-spacing="0.18" transform="translate(424.8 105.55) scale(1 1.08)">PWY-7229</text>
<line class="t" x1="425.1" y1="103.55" x2="426.7" y2="103.55"/>
<line class="t" x1="425.8" y1="89.92" x2="426.7" y2="89.92"/>
<text class="c" letter-spacing="0.18" transform="translate(424.8 132.8) scale(1 1.08)">PWY-7228</text>
<line class="t" x1="425.1" y1="130.8" x2="426.7" y2="130.8"/>
<line class="t" x1="425.8" y1="117.18" x2="426.7" y2="117.18"/>
<text class="c" letter-spacing="0.18" transform="translate(424.8 160.05) scale(1 1.08)">PWY-7222</text>
<line class="t" x1="425.1" y1="158.05" x2="426.7" y2="158.05"/>
<line class="t" x1="425.8" y1="144.43" x2="426.7" y2="144.43"/>
<text class="c" letter-spacing="0.18" transform="translate(424.8 187.3) scale(1 1.08)">PWY-7221</text>
<line class="t" x1="425.1" y1="185.3" x2="426.7" y2="185.3"/>
<line class="t" x1="425.8" y1="171.68" x2="426.7" y2="171.68"/>
<text class="c" letter-spacing="0.18" transform="translate(424.8 214.55) scale(1 1.08)">PWY-7220</text>
<line class="t" x1="425.1" y1="212.55" x2="426.7" y2="212.55"/>
<line class="t" x1="425.8" y1="198.93" x2="426.7" y2="198.93"/>
<text class="c" letter-spacing="0.18" transform="translate(424.8 241.8) scale(1 1.08)">PWY-7219</text>
<line class="t" x1="425.1" y1="239.8" x2="426.7" y2="239.8"/>
<line class="t" x1="425.8" y1="226.18" x2="426.7" y2="226.18"/>
<text class="c" letter-spacing="0.18" transform="translate(424.8 269.05) scale(1 1.08)">PWY-7210</text>
<line class="t" x1="425.1" y1="267.05" x2="426.7" y2="267.05"/>
<line class="t" x1="425.8" y1="253.43" x2="426.7" y2="253.43"/>
<text class="c" letter-spacing="0.18" transform="translate(424.8 296.3) scale(1 1.08)">PWY-7208</text>
<line class="t" x1="425.1" y1="294.3" x2="426.7" y2="294.3"/>
<line class="t" x1="425.8" y1="280.68" x2="426.7" y2="280.68"/>
<text class="c" letter-spacing="0.18" transform="translate(424.8 323.55) scale(1 1.08)">PWY-7198</text>
<line class="t" x1="425.1" y1="321.55" x2="426.7" y2="321.55"/>
<line class="t" x1="425.8" y1="307.93" x2="426.7" y2="307.93"/>
<g class="b"><rect x="426.7" y="11" width="7.2" height="2.16" fill="#0000ff" stroke="#000080"/><rect x="426.7" y="13.16" width="8.19" height="2.16" fill="#ffcc99" stroke="#b08050"/><rect x="426.7" y="15.32" width="5.82" height="2.16" fill="#008000" stroke="#004000"/><rect x="426.7" y="17.48" width="37.79" height="2.16" fill="#00ff00" stroke="#008000"/><rect x="426.7" y="19.64" width="34.19" height="2.16" fill="#00ffff" stroke="#008080"/><rect x="426.7" y="21.8" width="17.21" height="2.16" fill="#660033" stroke="#330018"/><rect x="426.7" y="23.96" width="76.8" height="2.16" fill="#ff8000" stroke="#995000"/><rect x="426.7" y="26.12" width="76.21" height="2.16" fill="#9c7400" stroke="#5a4200"/><rect x="426.7" y="28.28" width="75.18" height="2.16" fill="#ff0000" stroke="#990000"/><rect x="426.7" y="30.44" width="63.78" height="2.16" fill="#ffffff" stroke="#3a3a3a"/><rect x="426.7" y="38.25" width="9.18" height="2.16" fill="#0000ff" stroke="#000080"/><rect x="426.7" y="40.41" width="8.19" height="2.16" fill="#ffcc99" stroke="#b08050"/><rect x="426.7" y="42.57" width="5.82" height="2.16" fill="#008000" stroke="#004000"/><rect x="426.7" y="44.73" width="41.58" height="2.16" fill="#00ff00" stroke="#008000"/><rect x="426.7" y="46.89" width="37.79" height="2.16" fill="#00ffff" stroke="#008080"/><rect x="426.7" y="49.05" width="21.21" height="2.16" fill="#660033" stroke="#330018"/><rect x="426.7" y="51.21" width="80.8" height="2.16" fill="#ff8000" stroke="#995000"/><rect x="426.7" y="53.37" width="76.21" height="2.16" fill="#9c7400" stroke="#5a4200"/><rect x="426.7" y="55.53" width="78.78" height="2.16" fill="#ff0000" stroke="#990000"/><rect x="426.7" y="57.69" width="67.78" height="2.16" fill="#ffffff" stroke="#3a3a3a"/><rect x="426.7" y="65.5" width="7.2" height="2.16" fill="#0000ff" stroke="#000080"/><rect x="426.7" y="67.66" width="8.19" height="2.16" fill="#ffcc99" stroke="#b08050"/><rect x="426.7" y="69.82" width="5.82" height="2.16" fill="#008000" stroke="#004000"/><rect x="426.7" y="71.98" width="37.79" height="2.16" fill="#00ff00" stroke="#008000"/><rect x="426.7" y="74.14" width="34.19" height="2.16" fill="#00ffff" stroke="#008080"/><rect x="426.7" y="76.3" width="17.21" height="2.16" fill="#660033" stroke="#330018"/><rect x="426.7" y="78.46" width="73.2" height="2.16" fill="#ff8000" stroke="#995000"/><rect x="426.7" y="80.62" width="76.21" height="2.16" fill="#9c7400" stroke="#5a4200"/><rect x="426.7" y="82.78" width="75.18" height="2.16" fill="#ff0000" stroke="#990000"/><rect x="426.7" y="84.94" width="63.78" height="2.16" fill="#ffffff" stroke="#3a3a3a"/><rect x="426.7" y="92.75" width="9.81" height="2.16" fill="#0000ff" stroke="#000080"/><rect x="426.7" y="94.91" width="9.81" height="2.16" fill="#ffcc99" stroke="#b08050"/><rect x="426.7" y="97.07" width="7.2" height="2.16" fill="#008000" stroke="#004000"/><rect x="426.7" y="99.23" width="65.21" height="2.16" fill="#00ff00" stroke="#008000"/><rect x="426.7" y="101.39" width="61.8" height="2.16" fill="#00ffff" stroke="#008080"/><rect x="426.7" y="103.55" width="45.19" height="2.16" fill="#660033" stroke="#330018"/><rect x="426.7" y="105.71" width="104.77" height="2.16" fill="#ff8000" stroke="#995000"/><rect x="426.7" y="107.87" width="100.18" height="2.16" fill="#9c7400" stroke="#5a4200"/><rect x="426.7" y="110.03" width="102.79" height="2.16" fill="#ff0000" stroke="#990000"/><rect x="426.7" y="112.19" width="91.2" height="2.16" fill="#ffffff" stroke="#3a3a3a"/><rect x="426.7" y="120" width="7.2" height="2.16" fill="#0000ff" stroke="#000080"/><rect x="426.7" y="122.16" width="8.19" height="2.16" fill="#ffcc99" stroke="#b08050"/><rect x="426.7" y="124.32" width="5.82" height="2.16" fill="#008000" stroke="#004000"/><rect x="426.7" y="126.48" width="40.6" height="2.16" fill="#00ff00" stroke="#008000"/><rect x="426.7" y="128.64" width="37.19" height="2.16" fill="#00ffff" stroke="#008080"/><rect x="426.7" y="130.8" width="20.22" height="2.16" fill="#660033" stroke="#330018"/><rect x="426.7" y="132.96" width="79.81" height="2.16" fill="#ff8000" stroke="#995000"/><rect x="426.7" y="135.12" width="78.78" height="2.16" fill="#9c7400" stroke="#5a4200"/><rect x="426.7" y="137.28" width="78.18" height="2.16" fill="#ff0000" stroke="#990000"/><rect x="426.7" y="139.44" width="66.79" height="2.16" fill="#ffffff" stroke="#3a3a3a"/><rect x="426.7" y="147.25" width="9.18" height="2.16" fill="#0000ff" stroke="#000080"/><rect x="426.7" y="149.41" width="8.19" height="2.16" fill="#ffcc99" stroke="#b08050"/><rect x="426.7" y="151.57" width="6.61" height="2.16" fill="#008000" stroke="#004000"/><rect x="426.7" y="153.73" width="50.8" height="2.16" fill="#00ff00" stroke="#008000"/><rect x="426.7" y="155.89" width="46.81" height="2.16" fill="#00ffff" stroke="#008080"/><rect x="426.7" y="158.05" width="30.19" height="2.16" fill="#660033" stroke="#330018"/><rect x="426.7" y="160.21" width="89.78" height="2.16" fill="#ff8000" stroke="#995000"/><rect x="426.7" y="162.37" width="85.19" height="2.16" fill="#9c7400" stroke="#5a4200"/><rect x="426.7" y="164.53" width="87.8" height="2.16" fill="#ff0000" stroke="#990000"/><rect x="426.7" y="166.69" width="77.08" height="2.16" fill="#ffffff" stroke="#3a3a3a"/><rect x="426.7" y="174.5" width="6.61" height="2.16" fill="#0000ff" stroke="#000080"/><rect x="426.7" y="176.66" width="7.2" height="2.16" fill="#ffcc99" stroke="#b08050"/><rect x="426.7" y="178.82" width="5.18" height="2.16" fill="#008000" stroke="#004000"/><rect x="426.7" y="180.98" width="33.2" height="2.16" fill="#00ff00" stroke="#008000"/><rect x="426.7" y="183.14" width="29.79" height="2.16" fill="#00ffff" stroke="#008080"/><rect x="426.7" y="185.3" width="13.22" height="2.16" fill="#660033" stroke="#330018"/><rect x="426.7" y="187.46" width="68.81" height="2.16" fill="#ff8000" stroke="#995000"/><rect x="426.7" y="189.62" width="71.81" height="2.16" fill="#9c7400" stroke="#5a4200"/><rect x="426.7" y="191.78" width="70.59" height="2.16" fill="#ff0000" stroke="#990000"/><rect x="426.7" y="193.94" width="59.19" height="2.16" fill="#ffffff" stroke="#3a3a3a"/><rect x="426.7" y="201.75" width="8.19" height="2.16" fill="#0000ff" stroke="#000080"/><rect x="426.7" y="203.91" width="8.59" height="2.16" fill="#ffcc99" stroke="#b08050"/><rect x="426.7" y="206.07" width="6.61" height="2.16" fill="#008000" stroke="#004000"/><rect x="426.7" y="208.23" width="50.8" height="2.16" fill="#00ff00" stroke="#008000"/><rect x="426.7" y="210.39" width="46.81" height="2.16" fill="#00ffff" stroke="#008080"/><rect x="426.7" y="212.55" width="30.19" height="2.16" fill="#660033" stroke="#330018"/><rect x="426.7" y="214.71" width="89.58" height="2.16" fill="#ff8000" stroke="#995000"/><rect x="426.7" y="216.87" width="89.18" height="2.16" fill="#9c7400" stroke="#5a4200"/><rect x="426.7" y="219.03" width="88.19" height="2.16" fill="#ff0000" stroke="#990000"/><rect x="426.7" y="221.19" width="76.21" height="2.16" fill="#ffffff" stroke="#3a3a3a"/><rect x="426.7" y="229" width="9.18" height="2.16" fill="#0000ff" stroke="#000080"/><rect x="426.7" y="231.16" width="9.81" height="2.16" fill="#ffcc99" stroke="#b08050"/><rect x="426.7" y="233.32" width="7.2" height="2.16" fill="#008000" stroke="#004000"/><rect x="426.7" y="235.48" width="66.79" height="2.16" fill="#00ff00" stroke="#008000"/><rect x="426.7" y="237.64" width="63.19" height="2.16" fill="#00ffff" stroke="#008080"/><rect x="426.7" y="239.8" width="46.81" height="2.16" fill="#660033" stroke="#330018"/><rect x="426.7" y="241.96" width="106.2" height="2.16" fill="#ff8000" stroke="#995000"/><rect x="426.7" y="244.12" width="101.17" height="2.16" fill="#9c7400" stroke="#5a4200"/><rect x="426.7" y="246.28" width="104.18" height="2.16" fill="#ff0000" stroke="#990000"/><rect x="426.7" y="248.44" width="92.78" height="2.16" fill="#ffffff" stroke="#3a3a3a"/><rect x="426.7" y="256.25" width="8.19" height="2.16" fill="#0000ff" stroke="#000080"/><rect x="426.7" y="258.41" width="8.59" height="2.16" fill="#ffcc99" stroke="#b08050"/><rect x="426.7" y="260.57" width="5.82" height="2.16" fill="#008000" stroke="#004000"/><rect x="426.7" y="262.73" width="42.18" height="2.16" fill="#00ff00" stroke="#008000"/><rect x="426.7" y="264.89" width="38.81" height="2.16" fill="#00ffff" stroke="#008080"/><rect x="426.7" y="267.05" width="22.2" height="2.16" fill="#660033" stroke="#330018"/><rect x="426.7" y="269.21" width="81.59" height="2.16" fill="#ff8000" stroke="#995000"/><rect x="426.7" y="271.37" width="80.6" height="2.16" fill="#9c7400" stroke="#5a4200"/><rect x="426.7" y="273.53" width="80.2" height="2.16" fill="#ff0000" stroke="#990000"/><rect x="426.7" y="275.69" width="68.21" height="2.16" fill="#ffffff" stroke="#3a3a3a"/><rect x="426.7" y="283.5" width="6.61" height="2.16" fill="#0000ff" stroke="#000080"/><rect x="426.7" y="285.66" width="7.2" height="2.16" fill="#ffcc99" stroke="#b08050"/><rect x="426.7" y="287.82" width="5.18" height="2.16" fill="#008000" stroke="#004000"/><rect x="426.7" y="289.98" width="33.59" height="2.16" fill="#00ff00" stroke="#008000"/><rect x="426.7" y="292.14" width="29.79" height="2.16" fill="#00ffff" stroke="#008080"/><rect x="426.7" y="294.3" width="13.22" height="2.16" fill="#660033" stroke="#330018"/><rect x="426.7" y="296.46" width="72.6" height="2.16" fill="#ff8000" stroke="#995000"/><rect x="426.7" y="298.62" width="71.81" height="2.16" fill="#9c7400" stroke="#5a4200"/><rect x="426.7" y="300.78" width="70.78" height="2.16" fill="#ff0000" stroke="#990000"/><rect x="426.7" y="302.94" width="59.19" height="2.16" fill="#ffffff" stroke="#3a3a3a"/><rect x="426.7" y="310.75" width="7.2" height="2.16" fill="#0000ff" stroke="#000080"/><rect x="426.7" y="312.91" width="8.19" height="2.16" fill="#ffcc99" stroke="#b08050"/><rect x="426.7" y="315.07" width="5.82" height="2.16" fill="#008000" stroke="#004000"/><rect x="426.7" y="317.23" width="39.21" height="2.16" fill="#00ff00" stroke="#008000"/><rect x="426.7" y="319.39" width="35.81" height="2.16" fill="#00ffff" stroke="#008080"/><rect x="426.7" y="321.55" width="18.79" height="2.16" fill="#660033" stroke="#330018"/><rect x="426.7" y="323.71" width="82.77" height="2.16" fill="#ff8000" stroke="#995000"/><rect x="426.7" y="325.87" width="77.79" height="2.16" fill="#9c7400" stroke="#5a4200"/><rect x="426.7" y="328.03" width="76.8" height="2.16" fill="#ff0000" stroke="#990000"/><rect x="426.7" y="330.19" width="64.81" height="2.16" fill="#ffffff" stroke="#3a3a3a"/></g>
<rect class="fr" x="426.7" y="8" width="118.7" height="326.8"/>
<line class="t" x1="426.7" y1="334.8" x2="426.7" y2="336.6"/>
<line class="t" x1="432.24" y1="334.8" x2="432.24" y2="336.1"/>
<line class="t" x1="437.78" y1="334.8" x2="437.78" y2="336.1"/>
<line class="t" x1="443.32" y1="334.8" x2="443.32" y2="336.1"/>
<line class="t" x1="448.86" y1="334.8" x2="448.86" y2="336.1"/>
<line class="t" x1="454.4" y1="334.8" x2="454.4" y2="336.6"/>
<line class="t" x1="459.94" y1="334.8" x2="459.94" y2="336.1"/>
<line class="t" x1="465.48" y1="334.8" x2="465.48" y2="336.1"/>
<line class="t" x1="471.01" y1="334.8" x2="471.01" y2="336.1"/>
<line class="t" x1="476.55" y1="334.8" x2="476.55" y2="336.1"/>
<line class="t" x1="482.09" y1="334.8" x2="482.09" y2="336.6"/>
<line class="t" x1="487.63" y1="334.8" x2="487.63" y2="336.1"/>
<line class="t" x1="493.17" y1="334.8" x2="493.17" y2="336.1"/>
<line class="t" x1="498.71" y1="334.8" x2="498.71" y2="336.1"/>
<line class="t" x1="504.25" y1="334.8" x2="504.25" y2="336.1"/>
<line class="t" x1="509.79" y1="334.8" x2="509.79" y2="336.6"/>
<line class="t" x1="515.33" y1="334.8" x2="515.33" y2="336.1"/>
<line class="t" x1="520.87" y1="334.8" x2="520.87" y2="336.1"/>
<line class="t" x1="526.41" y1="334.8" x2="526.41" y2="336.1"/>
<line class="t" x1="531.95" y1="334.8" x2="531.95" y2="336.1"/>
<line class="t" x1="537.49" y1="334.8" x2="537.49" y2="336.6"/>
<line class="t" x1="543.03" y1="334.8" x2="543.03" y2="336.1"/>
<text class="k" transform="translate(426.7 343.4) scale(1 0.95)">0</text>
<text class="k" transform="translate(454.4 343.4) scale(1 0.95)">700</text>
<text class="k" transform="translate(482.09 343.4) scale(1 0.95)">1400</text>
<text class="k" transform="translate(509.79 343.4) scale(1 0.95)">2100</text>
<text class="k" transform="translate(537.49 343.4) scale(1 0.95)">2800</text>
<text class="ti" transform="translate(486.1 353.5) scale(1 1.05)">Abundance</text>
<rect x="512" y="19.25" width="5" height="3.7" fill="#0000ff" stroke="#000080" stroke-width="0.5"/>
<text class="l" transform="translate(520.1 23.6) scale(1 1.0)">S2_28d</text>
<rect x="512" y="27.06" width="5" height="3.7" fill="#ffcc99" stroke="#b08050" stroke-width="0.5"/>
<text class="l" transform="translate(520.1 31.41) scale(1 1.0)">S1_28d</text>
<rect x="512" y="34.87" width="5" height="3.7" fill="#008000" stroke="#004000" stroke-width="0.5"/>
<text class="l" transform="translate(520.1 39.22) scale(1 1.0)">CK_28d</text>
<rect x="512" y="42.68" width="5" height="3.7" fill="#00ff00" stroke="#008000" stroke-width="0.5"/>
<text class="l" transform="translate(520.1 47.03) scale(1 1.0)">S2_16d</text>
<rect x="512" y="50.49" width="5" height="3.7" fill="#00ffff" stroke="#008080" stroke-width="0.5"/>
<text class="l" transform="translate(520.1 54.84) scale(1 1.0)">S1_16d</text>
<rect x="512" y="58.3" width="5" height="3.7" fill="#660033" stroke="#330018" stroke-width="0.5"/>
<text class="l" transform="translate(520.1 62.65) scale(1 1.0)">CK_16d</text>
<rect x="512" y="66.11" width="5" height="3.7" fill="#ff8000" stroke="#995000" stroke-width="0.5"/>
<text class="l" transform="translate(520.1 70.46) scale(1 1.0)">S2_5d</text>
<rect x="512" y="73.92" width="5" height="3.7" fill="#9c7400" stroke="#5a4200" stroke-width="0.5"/>
<text class="l" transform="translate(520.1 78.27) scale(1 1.0)">S1_5d</text>
<rect x="512" y="81.73" width="5" height="3.7" fill="#ff0000" stroke="#990000" stroke-width="0.5"/>
<text class="l" transform="translate(520.1 86.08) scale(1 1.0)">CK_5d</text>
<rect x="512" y="89.54" width="5" height="3.7" fill="#ffffff" stroke="#3a3a3a" stroke-width="0.5"/>
<text class="l" transform="translate(520.1 93.89) scale(1 1.0)">0d</text>
</svg></body></html>
